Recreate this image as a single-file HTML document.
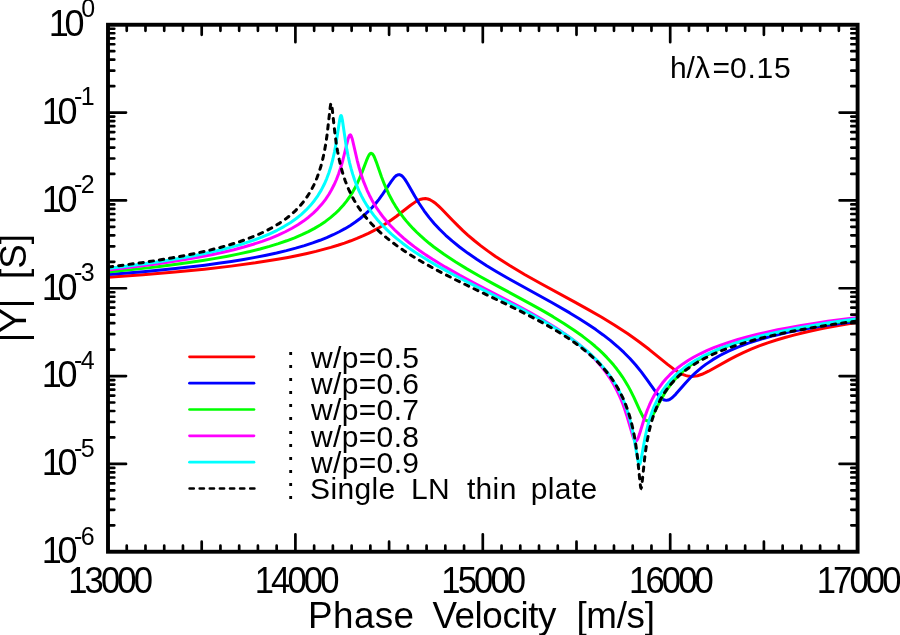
<!DOCTYPE html>
<html><head><meta charset="utf-8"><style>
html,body{margin:0;padding:0;background:#fff;width:900px;height:635px;overflow:hidden}
svg{display:block}
text{font-family:"Liberation Sans",Arial,Helvetica,sans-serif;fill:#000}
.tl{font-size:36px;letter-spacing:-4.2px}
.sup{font-size:25px;letter-spacing:0}
.xl{font-size:36.5px;letter-spacing:-3.05px}
.lg{font-size:30px;letter-spacing:0.35px}
.hl{font-size:30px}
.at{font-size:36.8px}
</style></head><body>
<svg width="900" height="635" viewBox="0 0 900 635">
<rect width="900" height="635" fill="#fff"/>
<path d="M108.00,277.15 L142.95,274.68 L175.00,272.03 L204.35,269.18 L231.10,266.13 L255.45,262.85 L277.60,259.31 L287.90,257.44 L297.70,255.50 L307.05,253.48 L315.95,251.37 L330.85,247.37 L337.85,245.25 L344.50,243.05 L350.85,240.78 L356.95,238.40 L362.80,235.92 L368.40,233.33 L373.75,230.64 L378.95,227.80 L383.95,224.83 L388.85,221.68 L396.20,216.48 L410.60,205.24 L415.80,201.63 L418.45,200.18 L420.90,199.21 L423.20,198.69 L425.45,198.60 L427.90,199.01 L430.35,199.94 L432.95,201.43 L435.80,203.57 L438.40,205.86 L441.40,208.78 L452.70,220.54 L458.05,225.93 L462.90,230.58 L467.80,235.04 L474.20,240.51 L480.90,245.85 L488.00,251.14 L495.55,256.43 L502.20,260.84 L509.25,265.31 L525.00,274.71 L541.60,284.05 L574.40,301.88 L587.90,309.35 L601.75,317.31 L613.95,324.72 L627.50,333.54 L633.85,337.95 L640.05,342.45 L649.30,349.54 L667.55,364.38 L674.15,369.39 L677.45,371.59 L680.50,373.35 L683.35,374.68 L686.05,375.62 L687.95,376.07 L689.85,376.35 L691.75,376.45 L693.65,376.37 L695.60,376.13 L697.60,375.70 L701.90,374.30 L705.00,372.96 L708.55,371.19 L729.75,359.33 L736.55,355.82 L743.30,352.58 L751.10,349.16 L759.20,345.94 L767.65,342.89 L776.50,340.00 L784.95,337.49 L793.85,335.08 L803.20,332.75 L813.00,330.52 L823.30,328.37 L834.15,326.29 L845.60,324.27 L857.60,322.32" fill="none" stroke="#ff0000" stroke-width="3" stroke-linejoin="round"/><path d="M108.00,274.50 L143.20,271.68 L175.45,268.56 L204.80,265.14 L218.40,263.32 L231.35,261.41 L243.60,259.43 L255.20,257.36 L266.20,255.20 L276.60,252.95 L286.45,250.59 L295.70,248.14 L304.45,245.58 L312.70,242.89 L319.95,240.28 L326.75,237.57 L333.20,234.73 L339.25,231.77 L344.95,228.69 L350.35,225.43 L355.40,222.04 L360.15,218.49 L364.45,214.91 L368.50,211.16 L372.35,207.20 L376.05,202.97 L378.95,199.34 L381.80,195.48 L391.10,181.56 L394.15,177.56 L395.50,176.21 L396.75,175.28 L397.95,174.76 L399.15,174.62 L400.50,174.97 L401.90,175.86 L403.35,177.30 L404.95,179.37 L407.55,183.48 L414.85,196.32 L419.20,203.49 L424.10,210.78 L429.25,217.61 L434.35,223.67 L439.80,229.52 L445.70,235.26 L452.05,240.90 L459.55,246.98 L467.75,253.08 L476.75,259.28 L486.70,265.66 L496.65,271.70 L507.90,278.21 L551.75,302.53 L569.80,312.91 L579.30,318.69 L587.90,324.20 L595.85,329.59 L603.20,334.92 L610.60,340.68 L617.50,346.52 L623.90,352.43 L629.90,358.52 L635.70,364.99 L641.30,371.89 L646.25,378.54 L654.80,390.65 L657.90,394.67 L659.75,396.74 L661.40,398.27 L663.00,399.38 L664.50,400.06 L666.35,400.36 L668.25,400.04 L670.25,399.09 L672.40,397.48 L675.85,394.06 L685.75,382.66 L691.75,376.33 L695.10,373.13 L698.55,370.08 L702.10,367.17 L705.80,364.38 L712.80,359.66 L720.35,355.26 L728.50,351.15 L737.30,347.30 L748.35,343.14 L760.45,339.26 L773.60,335.67 L787.85,332.33 L803.35,329.23 L820.10,326.35 L838.15,323.70 L857.60,321.26" fill="none" stroke="#0000ff" stroke-width="3" stroke-linejoin="round"/><path d="M108.00,271.98 L143.25,268.38 L159.45,266.50 L174.70,264.58 L189.15,262.58 L202.75,260.52 L215.60,258.38 L227.70,256.17 L239.10,253.87 L249.85,251.47 L259.95,248.97 L269.45,246.36 L278.40,243.63 L286.75,240.79 L294.60,237.80 L301.90,234.70 L308.40,231.60 L314.50,228.35 L320.20,224.95 L325.50,221.39 L330.45,217.65 L335.05,213.72 L339.30,209.60 L343.25,205.26 L346.40,201.35 L349.35,197.25 L352.15,192.89 L354.75,188.34 L357.45,183.01 L360.05,177.22 L362.40,171.40 L366.45,160.69 L367.95,157.15 L368.85,155.42 L369.70,154.19 L370.50,153.49 L371.30,153.29 L372.05,153.57 L372.80,154.31 L373.60,155.53 L374.45,157.25 L376.25,161.85 L381.55,177.01 L384.55,184.71 L388.60,193.71 L393.00,202.00 L395.45,206.09 L398.00,210.01 L400.70,213.86 L403.60,217.69 L406.60,221.38 L409.80,225.05 L413.20,228.68 L416.75,232.24 L420.70,235.96 L424.85,239.62 L429.25,243.29 L433.90,246.95 L444.00,254.29 L455.35,261.80 L466.90,268.88 L480.10,276.48 L493.90,284.10 L531.80,304.59 L543.05,310.89 L552.95,316.67 L563.90,323.41 L573.75,329.91 L582.70,336.31 L590.80,342.64 L595.10,346.27 L599.20,349.93 L603.10,353.64 L606.80,357.40 L610.30,361.19 L613.65,365.09 L616.80,369.02 L619.80,373.06 L622.55,377.05 L625.20,381.19 L627.70,385.40 L630.15,389.85 L633.90,397.32 L640.50,411.80 L642.80,416.36 L643.85,418.07 L644.85,419.38 L645.75,420.23 L646.65,420.73 L647.70,420.84 L648.80,420.41 L649.90,419.48 L651.10,417.97 L653.55,413.85 L660.90,399.64 L665.25,392.27 L668.10,388.02 L671.05,384.04 L674.15,380.26 L677.40,376.69 L680.90,373.21 L684.60,369.89 L688.55,366.69 L692.70,363.64 L697.10,360.70 L701.75,357.89 L706.65,355.19 L711.85,352.58 L717.80,349.87 L724.10,347.26 L730.75,344.77 L737.80,342.36 L745.25,340.05 L753.10,337.83 L761.35,335.70 L770.05,333.64 L779.20,331.67 L788.85,329.76 L809.60,326.16 L832.45,322.80 L857.60,319.67" fill="none" stroke="#00ff00" stroke-width="3" stroke-linejoin="round"/><path d="M108.00,269.89 L125.75,267.88 L142.35,265.83 L157.95,263.74 L172.65,261.59 L186.45,259.37 L199.40,257.09 L211.60,254.71 L223.05,252.25 L233.80,249.69 L243.85,247.03 L253.30,244.25 L262.15,241.34 L270.45,238.29 L278.15,235.11 L285.35,231.76 L292.00,228.27 L297.95,224.75 L303.45,221.08 L308.55,217.22 L313.30,213.14 L317.65,208.87 L321.70,204.33 L325.40,199.56 L328.80,194.50 L331.55,189.79 L334.10,184.79 L336.45,179.51 L338.65,173.81 L340.75,167.51 L342.70,160.76 L348.15,138.62 L349.25,135.70 L349.75,135.03 L350.20,134.85 L350.70,135.14 L351.20,135.93 L352.35,139.28 L357.25,160.52 L358.85,166.71 L360.50,172.43 L363.60,181.67 L367.10,190.31 L369.40,195.21 L371.85,199.92 L374.50,204.52 L377.30,208.94 L380.30,213.26 L383.55,217.54 L387.00,221.71 L390.65,225.79 L394.75,230.01 L399.15,234.21 L403.85,238.38 L408.85,242.52 L414.15,246.63 L419.80,250.74 L425.80,254.87 L432.25,259.08 L445.10,266.91 L459.95,275.32 L475.60,283.72 L518.80,306.33 L531.55,313.31 L542.65,319.69 L554.90,327.22 L565.75,334.49 L575.50,341.71 L579.95,345.29 L584.20,348.91 L588.90,353.20 L593.30,357.54 L597.40,361.91 L601.25,366.39 L604.85,370.97 L608.20,375.64 L611.35,380.49 L614.25,385.44 L616.55,389.76 L618.75,394.29 L620.80,398.93 L622.75,403.79 L624.80,409.45 L626.75,415.41 L632.90,436.40 L634.30,439.76 L634.90,440.63 L635.50,441.07 L636.15,441.05 L636.85,440.45 L637.55,439.31 L638.35,437.47 L639.60,433.84 L643.05,422.48 L645.00,416.49 L647.25,410.30 L649.55,404.74 L651.70,400.13 L654.00,395.74 L656.45,391.57 L659.10,387.53 L662.40,383.08 L666.00,378.80 L669.90,374.71 L674.05,370.86 L678.50,367.19 L683.30,363.66 L688.45,360.28 L693.95,357.04 L700.15,353.78 L706.75,350.67 L713.80,347.69 L721.35,344.82 L729.35,342.08 L737.90,339.44 L746.95,336.90 L756.60,334.45 L766.80,332.09 L777.60,329.82 L789.10,327.60 L801.25,325.46 L814.10,323.38 L827.75,321.34 L857.60,317.39" fill="none" stroke="#ff00ff" stroke-width="3" stroke-linejoin="round"/><path d="M108.00,268.44 L126.05,266.23 L142.90,263.99 L158.65,261.70 L173.35,259.36 L187.15,256.95 L200.05,254.45 L212.10,251.87 L223.40,249.19 L234.00,246.38 L243.90,243.44 L253.10,240.39 L261.70,237.18 L269.70,233.81 L277.10,230.29 L283.95,226.59 L290.30,222.69 L295.95,218.73 L301.15,214.57 L305.90,210.23 L310.30,205.59 L314.30,200.72 L317.95,195.56 L321.25,190.11 L324.25,184.28 L326.75,178.57 L329.00,172.53 L331.00,166.20 L332.85,159.24 L334.45,152.09 L335.95,144.12 L339.80,119.02 L340.45,116.32 L340.75,115.69 L341.00,115.52 L341.30,115.75 L341.60,116.45 L342.30,119.59 L345.75,143.15 L346.95,150.16 L348.25,156.79 L349.60,162.81 L351.10,168.66 L352.70,174.15 L354.45,179.46 L356.60,185.19 L358.90,190.60 L361.45,195.90 L364.20,200.98 L367.20,205.95 L370.40,210.71 L373.85,215.36 L377.60,219.96 L381.90,224.75 L386.50,229.42 L391.45,234.04 L396.80,238.64 L402.50,243.17 L408.60,247.68 L415.15,252.22 L422.20,256.80 L429.10,261.05 L436.45,265.37 L453.05,274.51 L470.65,283.62 L505.35,300.97 L519.45,308.16 L533.80,315.76 L546.25,322.75 L553.30,326.93 L559.90,331.04 L566.05,335.08 L571.85,339.10 L577.30,343.11 L582.40,347.10 L587.20,351.13 L591.75,355.22 L596.75,360.10 L601.40,365.10 L605.70,370.20 L609.65,375.42 L613.25,380.73 L616.60,386.29 L619.65,392.02 L622.45,398.03 L624.75,403.66 L626.85,409.51 L628.80,415.74 L630.55,422.18 L632.15,428.95 L633.70,436.53 L637.80,460.14 L638.60,463.30 L638.95,464.08 L639.30,464.43 L639.65,464.32 L640.05,463.64 L640.85,460.81 L645.15,437.13 L646.75,429.77 L648.45,423.09 L650.30,416.87 L652.30,411.10 L654.50,405.64 L656.95,400.38 L659.90,394.92 L663.10,389.83 L666.65,384.95 L670.50,380.35 L674.70,375.97 L679.25,371.81 L684.20,367.83 L689.55,364.03 L695.55,360.27 L702.00,356.69 L708.95,353.27 L716.40,350.00 L724.40,346.87 L733.00,343.85 L742.15,340.97 L751.95,338.19 L762.40,335.51 L773.50,332.93 L785.35,330.43 L798.00,327.99 L811.45,325.62 L825.85,323.29 L841.20,320.99 L857.60,318.73" fill="none" stroke="#00ffff" stroke-width="3" stroke-linejoin="round"/><path d="M108.00,267.00 L125.40,264.85 L141.70,262.65 L157.00,260.36 L171.35,257.99 L184.80,255.52 L197.40,252.95 L209.20,250.27 L220.25,247.47 L230.55,244.54 L240.15,241.47 L249.10,238.25 L257.45,234.85 L265.15,231.31 L272.30,227.56 L278.90,223.62 L285.00,219.45 L290.35,215.26 L295.30,210.81 L299.80,206.14 L303.90,201.21 L307.65,195.97 L311.00,190.48 L314.05,184.59 L316.80,178.28 L319.05,172.14 L321.10,165.47 L322.95,158.24 L324.55,150.65 L325.95,142.60 L327.20,133.87 L330.25,106.85 L330.70,104.29 L330.95,103.58 L331.15,103.45 L331.55,104.37 L332.00,107.02 L335.00,134.31 L336.25,143.38 L337.60,151.53 L339.20,159.55 L340.95,166.89 L342.95,173.96 L345.20,180.71 L347.85,187.49 L350.85,194.06 L354.15,200.30 L357.80,206.32 L361.80,212.11 L366.20,217.75 L371.00,223.23 L376.20,228.57 L381.00,233.05 L386.10,237.45 L391.55,241.79 L397.40,246.14 L403.65,250.48 L410.30,254.81 L417.45,259.21 L425.15,263.69 L438.80,271.16 L454.55,279.23 L470.05,286.83 L508.10,305.09 L527.25,314.65 L536.60,319.55 L545.15,324.22 L553.10,328.79 L560.45,333.24 L567.90,338.03 L574.85,342.83 L581.30,347.62 L587.30,352.46 L592.85,357.33 L598.00,362.29 L602.75,367.33 L607.10,372.44 L610.85,377.34 L614.35,382.43 L617.55,387.64 L620.45,392.96 L623.10,398.46 L625.55,404.26 L627.80,410.39 L629.80,416.70 L631.45,422.74 L632.95,429.10 L634.30,435.79 L635.55,443.07 L636.65,450.65 L637.65,458.78 L640.25,484.46 L640.70,487.30 L640.90,487.94 L641.10,488.13 L641.30,487.86 L641.50,487.15 L641.90,484.61 L644.75,457.37 L645.95,448.40 L647.25,440.41 L648.80,432.58 L650.55,425.31 L652.50,418.58 L654.65,412.35 L657.25,406.02 L660.20,399.99 L663.50,394.28 L667.10,388.97 L671.05,383.98 L675.40,379.22 L680.15,374.72 L685.35,370.43 L691.20,366.21 L697.60,362.17 L704.50,358.35 L712.00,354.69 L720.05,351.22 L728.75,347.89 L738.10,344.71 L748.10,341.67 L758.80,338.76 L770.30,335.95 L782.55,333.25 L795.65,330.64 L809.65,328.11 L824.60,325.66 L840.55,323.26 L857.60,320.91" fill="none" stroke="#000" stroke-width="3" stroke-dasharray="4.3 5.98" stroke-dashoffset="9.82" stroke-linecap="round"/>
<path d="M126.74,551.73v-6.1M126.74,24.75v6.1M145.48,551.73v-6.1M145.48,24.75v6.1M164.22,551.73v-6.1M164.22,24.75v6.1M182.96,551.73v-6.1M182.96,24.75v6.1M201.70,551.73v-10.1M201.70,24.75v10.1M220.44,551.73v-6.1M220.44,24.75v6.1M239.18,551.73v-6.1M239.18,24.75v6.1M257.92,551.73v-6.1M257.92,24.75v6.1M276.66,551.73v-6.1M276.66,24.75v6.1M295.40,551.73v-17.5M295.40,24.75v17.5M314.14,551.73v-6.1M314.14,24.75v6.1M332.88,551.73v-6.1M332.88,24.75v6.1M351.62,551.73v-6.1M351.62,24.75v6.1M370.36,551.73v-6.1M370.36,24.75v6.1M389.10,551.73v-10.1M389.10,24.75v10.1M407.84,551.73v-6.1M407.84,24.75v6.1M426.58,551.73v-6.1M426.58,24.75v6.1M445.32,551.73v-6.1M445.32,24.75v6.1M464.06,551.73v-6.1M464.06,24.75v6.1M482.80,551.73v-17.5M482.80,24.75v17.5M501.54,551.73v-6.1M501.54,24.75v6.1M520.28,551.73v-6.1M520.28,24.75v6.1M539.02,551.73v-6.1M539.02,24.75v6.1M557.76,551.73v-6.1M557.76,24.75v6.1M576.50,551.73v-10.1M576.50,24.75v10.1M595.24,551.73v-6.1M595.24,24.75v6.1M613.98,551.73v-6.1M613.98,24.75v6.1M632.72,551.73v-6.1M632.72,24.75v6.1M651.46,551.73v-6.1M651.46,24.75v6.1M670.20,551.73v-17.5M670.20,24.75v17.5M688.94,551.73v-6.1M688.94,24.75v6.1M707.68,551.73v-6.1M707.68,24.75v6.1M726.42,551.73v-6.1M726.42,24.75v6.1M745.16,551.73v-6.1M745.16,24.75v6.1M763.90,551.73v-10.1M763.90,24.75v10.1M782.64,551.73v-6.1M782.64,24.75v6.1M801.38,551.73v-6.1M801.38,24.75v6.1M820.12,551.73v-6.1M820.12,24.75v6.1M838.86,551.73v-6.1M838.86,24.75v6.1M108.00,112.58h18.0M857.60,112.58h-18.0M108.00,86.14h6.3M857.60,86.14h-6.3M108.00,70.67h6.3M857.60,70.67h-6.3M108.00,59.70h6.3M857.60,59.70h-6.3M108.00,51.19h6.3M857.60,51.19h-6.3M108.00,44.23h6.3M857.60,44.23h-6.3M108.00,38.36h6.3M857.60,38.36h-6.3M108.00,33.26h6.3M857.60,33.26h-6.3M108.00,28.77h6.3M857.60,28.77h-6.3M108.00,200.41h18.0M857.60,200.41h-18.0M108.00,173.97h6.3M857.60,173.97h-6.3M108.00,158.50h6.3M857.60,158.50h-6.3M108.00,147.53h6.3M857.60,147.53h-6.3M108.00,139.02h6.3M857.60,139.02h-6.3M108.00,132.06h6.3M857.60,132.06h-6.3M108.00,126.19h6.3M857.60,126.19h-6.3M108.00,121.09h6.3M857.60,121.09h-6.3M108.00,116.60h6.3M857.60,116.60h-6.3M108.00,288.24h18.0M857.60,288.24h-18.0M108.00,261.80h6.3M857.60,261.80h-6.3M108.00,246.33h6.3M857.60,246.33h-6.3M108.00,235.36h6.3M857.60,235.36h-6.3M108.00,226.85h6.3M857.60,226.85h-6.3M108.00,219.89h6.3M857.60,219.89h-6.3M108.00,214.02h6.3M857.60,214.02h-6.3M108.00,208.92h6.3M857.60,208.92h-6.3M108.00,204.43h6.3M857.60,204.43h-6.3M108.00,376.07h18.0M857.60,376.07h-18.0M108.00,349.63h6.3M857.60,349.63h-6.3M108.00,334.16h6.3M857.60,334.16h-6.3M108.00,323.19h6.3M857.60,323.19h-6.3M108.00,314.68h6.3M857.60,314.68h-6.3M108.00,307.72h6.3M857.60,307.72h-6.3M108.00,301.85h6.3M857.60,301.85h-6.3M108.00,296.75h6.3M857.60,296.75h-6.3M108.00,292.26h6.3M857.60,292.26h-6.3M108.00,463.90h18.0M857.60,463.90h-18.0M108.00,437.46h6.3M857.60,437.46h-6.3M108.00,421.99h6.3M857.60,421.99h-6.3M108.00,411.02h6.3M857.60,411.02h-6.3M108.00,402.51h6.3M857.60,402.51h-6.3M108.00,395.55h6.3M857.60,395.55h-6.3M108.00,389.68h6.3M857.60,389.68h-6.3M108.00,384.58h6.3M857.60,384.58h-6.3M108.00,380.09h6.3M857.60,380.09h-6.3M108.00,525.29h6.3M857.60,525.29h-6.3M108.00,509.82h6.3M857.60,509.82h-6.3M108.00,498.85h6.3M857.60,498.85h-6.3M108.00,490.34h6.3M857.60,490.34h-6.3M108.00,483.38h6.3M857.60,483.38h-6.3M108.00,477.51h6.3M857.60,477.51h-6.3M108.00,472.41h6.3M857.60,472.41h-6.3M108.00,467.92h6.3M857.60,467.92h-6.3" stroke="#000" stroke-width="2.7" stroke-linecap="round" fill="none"/>
<rect x="108.0" y="24.75" width="749.60" height="526.98" fill="none" stroke="#000" stroke-width="3.9"/>
<text x="48.8" y="36.15" class="tl">10<tspan dx="0.7" dy="-19.0" class="sup">0</tspan></text><text x="41.7" y="123.98" class="tl">10<tspan dx="0.7" dy="-18.6" class="sup" style="letter-spacing:-1.5px">-1</tspan></text><text x="41.7" y="211.81" class="tl">10<tspan dx="0.7" dy="-18.6" class="sup" style="letter-spacing:-1.5px">-2</tspan></text><text x="41.7" y="299.64" class="tl">10<tspan dx="0.7" dy="-18.6" class="sup" style="letter-spacing:-1.5px">-3</tspan></text><text x="41.7" y="387.47" class="tl">10<tspan dx="0.7" dy="-18.6" class="sup" style="letter-spacing:-1.5px">-4</tspan></text><text x="41.7" y="475.30" class="tl">10<tspan dx="0.7" dy="-18.6" class="sup" style="letter-spacing:-1.5px">-5</tspan></text><text x="41.7" y="563.13" class="tl">10<tspan dx="0.7" dy="-18.6" class="sup" style="letter-spacing:-1.5px">-6</tspan></text>
<text transform="translate(68.15,592.6) scale(0.95,1)" class="xl">13000</text><text transform="translate(254.65,592.6) scale(0.95,1)" class="xl">14000</text><text transform="translate(441.35,592.6) scale(0.95,1)" class="xl">15000</text><text transform="translate(629.05,592.6) scale(0.95,1)" class="xl">16000</text><text transform="translate(816.65,592.6) scale(0.95,1)" class="xl">17000</text>
<path d="M189.5,356.80H254" stroke="#ff0000" stroke-width="2.7" stroke-linecap="round"/><text x="286.6" y="367.50" class="lg">:</text><text x="311" y="367.50" class="lg">w/p=0.5</text><path d="M189.5,383.15H254" stroke="#0000ff" stroke-width="2.7" stroke-linecap="round"/><text x="286.6" y="393.85" class="lg">:</text><text x="311" y="393.85" class="lg">w/p=0.6</text><path d="M189.5,409.50H254" stroke="#00ff00" stroke-width="2.7" stroke-linecap="round"/><text x="286.6" y="420.20" class="lg">:</text><text x="311" y="420.20" class="lg">w/p=0.7</text><path d="M189.5,435.85H254" stroke="#ff00ff" stroke-width="2.7" stroke-linecap="round"/><text x="286.6" y="446.55" class="lg">:</text><text x="311" y="446.55" class="lg">w/p=0.8</text><path d="M189.5,462.20H254" stroke="#00ffff" stroke-width="2.7" stroke-linecap="round"/><text x="286.6" y="472.90" class="lg">:</text><text x="311" y="472.90" class="lg">w/p=0.9</text><path d="M189.6,488.55H254.4" stroke="#000" stroke-width="2.6" stroke-dasharray="4.2 5.9" stroke-linecap="round"/><text x="286.6" y="499.25" class="lg">:</text><text y="499.25" class="lg"><tspan x="310.10">Single</tspan> <tspan x="410.90">LN</tspan> <tspan x="466.90">thin</tspan> <tspan x="530.70">plate</tspan></text>
<text y="77.7" class="hl"><tspan x="669.9">h/</tspan><tspan x="694.9">λ</tspan><tspan x="712.5">=0</tspan><tspan dx="0.8" style="letter-spacing:0.7px">.15</tspan></text>
<text y="627.6" class="at"><tspan x="308.1" style="letter-spacing:0.4px">Phase</tspan> <tspan x="432.4" style="letter-spacing:-0.4px">Velocity</tspan> <tspan x="576.4" style="letter-spacing:-0.3px">[m/s]</tspan></text>
<text transform="translate(25.8,342.3) rotate(-90)" class="at"><tspan x="0">|Y|</tspan> <tspan x="63.4">[S]</tspan></text>
</svg>
</body></html>
